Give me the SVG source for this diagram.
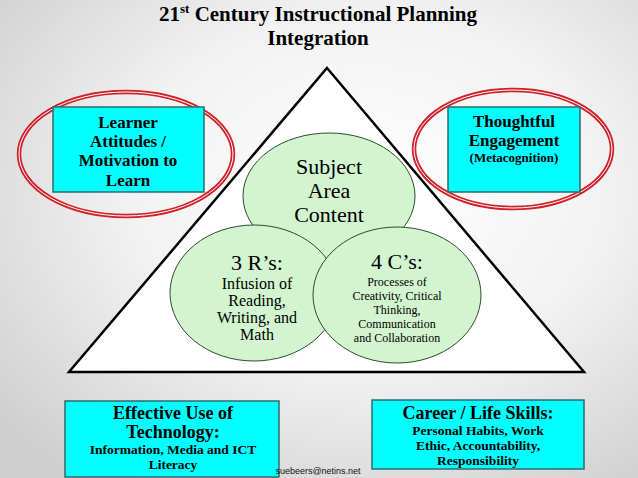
<svg xmlns="http://www.w3.org/2000/svg" width="638" height="478" viewBox="0 0 638 478">
<defs>
<radialGradient id="bg" cx="0.58" cy="0.4" r="0.75">
<stop offset="0" stop-color="#ffffff"/>
<stop offset="0.5" stop-color="#f2f2f2"/>
<stop offset="1" stop-color="#cfcfcf"/>
</radialGradient>
</defs>
<rect width="638" height="478" fill="url(#bg)"/>
<g id="title">
<text x="318" y="21" style="font-family:'Liberation Serif',serif;font-weight:bold;font-size:21px;text-anchor:middle">21<tspan style="font-size:13px" dy="-8">st</tspan><tspan dy="8"> Century Instructional Planning</tspan></text>
<text x="318" y="45" style="font-family:'Liberation Serif',serif;font-weight:bold;font-size:21px;text-anchor:middle">Integration</text>
</g>
<g id="connectors">
<polygon points="327,68 584,372 69,372" fill="#ffffff" stroke="#000" stroke-width="2.5" stroke-linejoin="miter"/>
</g>
<g id="subject">
<ellipse cx="329" cy="196" rx="86" ry="63" fill="#d2f5cf" stroke="#2d4a2d" stroke-width="1"/>
<text x="329" y="174" style="font-family:'Liberation Serif',serif;font-size:22px;text-anchor:middle">Subject</text>
<text x="329" y="198" style="font-family:'Liberation Serif',serif;font-size:22px;text-anchor:middle">Area</text>
<text x="329" y="222" style="font-family:'Liberation Serif',serif;font-size:22px;text-anchor:middle">Content</text>
</g>
<g id="threeRs">
<ellipse cx="254" cy="293" rx="84" ry="68" fill="#d2f5cf" stroke="#2d4a2d" stroke-width="1"/>
<text x="257" y="270" style="font-family:'Liberation Serif',serif;font-size:22px;text-anchor:middle">3 R’s:</text>
<text x="257" y="289" style="font-family:'Liberation Serif',serif;font-size:16px;text-anchor:middle">Infusion of</text>
<text x="257" y="306" style="font-family:'Liberation Serif',serif;font-size:16px;text-anchor:middle">Reading,</text>
<text x="257" y="323" style="font-family:'Liberation Serif',serif;font-size:16px;text-anchor:middle">Writing, and</text>
<text x="257" y="340" style="font-family:'Liberation Serif',serif;font-size:16px;text-anchor:middle">Math</text>
</g>
<g id="fourCs">
<ellipse cx="397" cy="295" rx="84" ry="68" fill="#d2f5cf" stroke="#2d4a2d" stroke-width="1"/>
<text x="397" y="269" style="font-family:'Liberation Serif',serif;font-size:22px;text-anchor:middle">4 C’s:</text>
<text x="397" y="286" style="font-family:'Liberation Serif',serif;font-size:12px;text-anchor:middle">Processes of</text>
<text x="397" y="300" style="font-family:'Liberation Serif',serif;font-size:12px;text-anchor:middle">Creativity, Critical</text>
<text x="397" y="314" style="font-family:'Liberation Serif',serif;font-size:12px;text-anchor:middle">Thinking,</text>
<text x="397" y="328" style="font-family:'Liberation Serif',serif;font-size:12px;text-anchor:middle">Communication</text>
<text x="397" y="342" style="font-family:'Liberation Serif',serif;font-size:12px;text-anchor:middle">and Collaboration</text>
</g>
<g id="learner">
<ellipse cx="126" cy="154" rx="107" ry="62" fill="none" stroke="#d0202a" stroke-width="4.5"/>
<ellipse cx="126" cy="154" rx="107" ry="62" fill="none" stroke="#ffffff" stroke-width="1"/>
<rect x="53" y="107" width="151" height="85" fill="#00ffff" stroke="#2f6b6b" stroke-width="1.5"/>
<text x="128" y="128" style="font-family:'Liberation Serif',serif;font-weight:bold;font-size:17px;text-anchor:middle">Learner</text>
<text x="128" y="147" style="font-family:'Liberation Serif',serif;font-weight:bold;font-size:17px;text-anchor:middle">Attitudes /</text>
<text x="128" y="166" style="font-family:'Liberation Serif',serif;font-weight:bold;font-size:17px;text-anchor:middle">Motivation to</text>
<text x="128" y="186" style="font-family:'Liberation Serif',serif;font-weight:bold;font-size:17px;text-anchor:middle">Learn</text>
</g>
<g id="thoughtful">
<ellipse cx="513" cy="149" rx="99" ry="59" fill="none" stroke="#d0202a" stroke-width="4.5"/>
<ellipse cx="513" cy="149" rx="99" ry="59" fill="none" stroke="#ffffff" stroke-width="1"/>
<rect x="448" y="107" width="132" height="85" fill="#00ffff" stroke="#2f6b6b" stroke-width="1.5"/>
<text x="514" y="127" style="font-family:'Liberation Serif',serif;font-weight:bold;font-size:17px;text-anchor:middle">Thoughtful</text>
<text x="514" y="146" style="font-family:'Liberation Serif',serif;font-weight:bold;font-size:17px;text-anchor:middle">Engagement</text>
<text x="514" y="162" style="font-family:'Liberation Serif',serif;font-weight:bold;font-size:13px;text-anchor:middle">(Metacognition)</text>
</g>
<g id="technology">
<rect x="65" y="401" width="214" height="76" fill="#00ffff" stroke="#2f6b6b" stroke-width="1.5"/>
<text x="173" y="419" style="font-family:'Liberation Serif',serif;font-weight:bold;font-size:18px;text-anchor:middle">Effective Use of</text>
<text x="173" y="438" style="font-family:'Liberation Serif',serif;font-weight:bold;font-size:18px;text-anchor:middle">Technology:</text>
<text x="173" y="454" style="font-family:'Liberation Serif',serif;font-weight:bold;font-size:13.5px;text-anchor:middle">Information, Media and ICT</text>
<text x="173" y="469" style="font-family:'Liberation Serif',serif;font-weight:bold;font-size:13.5px;text-anchor:middle">Literacy</text>
</g>
<g id="career">
<rect x="372" y="400" width="212" height="69" fill="#00ffff" stroke="#2f6b6b" stroke-width="1.5"/>
<text x="478" y="419" style="font-family:'Liberation Serif',serif;font-weight:bold;font-size:18px;text-anchor:middle">Career / Life Skills:</text>
<text x="478" y="435" style="font-family:'Liberation Serif',serif;font-weight:bold;font-size:13.5px;text-anchor:middle">Personal Habits, Work</text>
<text x="478" y="450" style="font-family:'Liberation Serif',serif;font-weight:bold;font-size:13.5px;text-anchor:middle">Ethic, Accountability,</text>
<text x="478" y="465" style="font-family:'Liberation Serif',serif;font-weight:bold;font-size:13.5px;text-anchor:middle">Responsibility</text>
</g>
<g id="credit">
<text x="318" y="474" style="font-family:'Liberation Sans',sans-serif;font-size:9px;text-anchor:middle;fill:#111">suebeers@netins.net</text>
</g>
</svg>
